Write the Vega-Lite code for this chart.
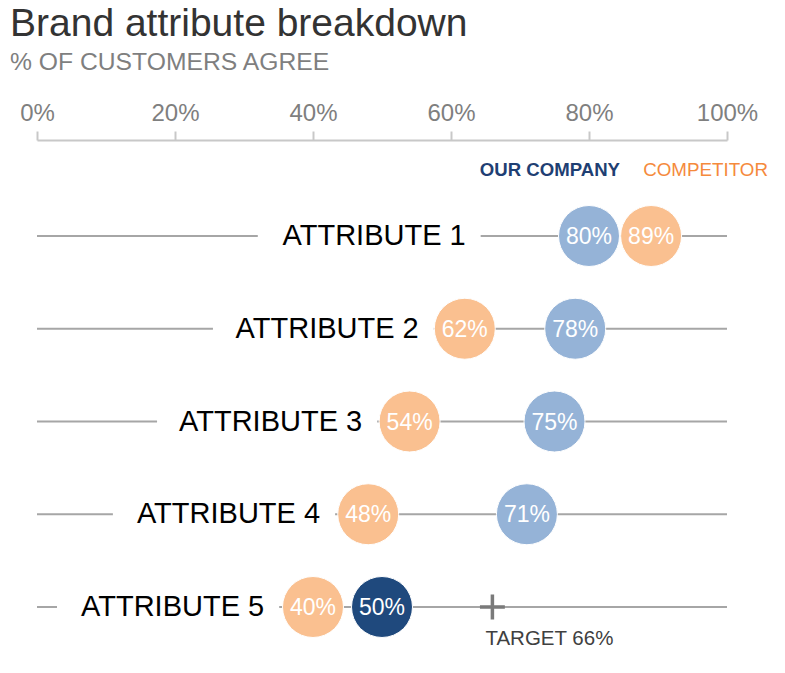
{
  "$schema": "https://vega.github.io/schema/vega-lite/v6.json",
  "autosize": {"type": "none"},
  "padding": {"left": 37, "top": 140, "right": 58, "bottom": 0},
  "width": 690,
  "height": 533,
  "background": "white",
  "config": {"view": {"stroke": null}},

  "title": {
    "text": "Brand attribute breakdown",
    "subtitle": "% OF CUSTOMERS AGREE",
    "anchor": "start",
    "frame": "group",
    "dx": -27,
    "offset": 26,
    "font": "Liberation Sans",
    "fontSize": 39,
    "fontWeight": "normal",
    "color": "#333333",
    "subtitleFont": "Liberation Sans",
    "subtitleFontSize": 24.7,
    "subtitleColor": "#7f7f7f",
    "subtitlePadding": 6
  },

  "datasets": {
    "rows": [
      {"attribute": "ATTRIBUTE 1", "lo": 0, "gap_start": 0.320, "gap_end": 0.643, "hi": 1},
      {"attribute": "ATTRIBUTE 2", "lo": 0, "gap_start": 0.255, "gap_end": 0.575, "hi": 1},
      {"attribute": "ATTRIBUTE 3", "lo": 0, "gap_start": 0.174, "gap_end": 0.493, "hi": 1},
      {"attribute": "ATTRIBUTE 4", "lo": 0, "gap_start": 0.110, "gap_end": 0.432, "hi": 1},
      {"attribute": "ATTRIBUTE 5", "lo": 0, "gap_start": 0.029, "gap_end": 0.351, "hi": 1}
    ],
    "scores": [
      {"attribute": "ATTRIBUTE 1", "series": "OUR COMPANY", "value": 0.80, "highlight": false},
      {"attribute": "ATTRIBUTE 1", "series": "COMPETITOR", "value": 0.89, "highlight": false},
      {"attribute": "ATTRIBUTE 2", "series": "OUR COMPANY", "value": 0.78, "highlight": false},
      {"attribute": "ATTRIBUTE 2", "series": "COMPETITOR", "value": 0.62, "highlight": false},
      {"attribute": "ATTRIBUTE 3", "series": "OUR COMPANY", "value": 0.75, "highlight": false},
      {"attribute": "ATTRIBUTE 3", "series": "COMPETITOR", "value": 0.54, "highlight": false},
      {"attribute": "ATTRIBUTE 4", "series": "OUR COMPANY", "value": 0.71, "highlight": false},
      {"attribute": "ATTRIBUTE 4", "series": "COMPETITOR", "value": 0.48, "highlight": false},
      {"attribute": "ATTRIBUTE 5", "series": "OUR COMPANY", "value": 0.50, "highlight": true},
      {"attribute": "ATTRIBUTE 5", "series": "COMPETITOR", "value": 0.40, "highlight": false}
    ],
    "targets": [
      {"attribute": "ATTRIBUTE 5", "target": 0.66, "label": "TARGET 66%"}
    ],
    "keys": [
      {"attribute": "ATTRIBUTE 1", "end": 1}
    ]
  },

  "layer": [
    {
      "data": {"name": "rows"},
      "mark": {"type": "rule", "color": "#a6a6a6", "strokeWidth": 2},
      "encoding": {
        "y": {
          "field": "attribute",
          "type": "nominal",
          "scale": {"type": "point", "range": [96, 467], "padding": 0},
          "axis": null
        },
        "x": {
          "field": "lo",
          "type": "quantitative",
          "scale": {"domain": [0, 1], "nice": false},
          "axis": {
            "orient": "top",
            "values": [0, 0.2, 0.4, 0.6, 0.8, 1],
            "format": ".0%",
            "title": null,
            "grid": false,
            "domainColor": "#c8c8c8",
            "domainWidth": 2,
            "tickColor": "#c8c8c8",
            "tickWidth": 2,
            "tickSize": 9,
            "labelFont": "Liberation Sans",
            "labelFontSize": 24,
            "labelColor": "#7f7f7f",
            "labelPadding": 6,
            "labelFlush": false
          }
        },
        "x2": {"field": "gap_start"}
      }
    },
    {
      "data": {"name": "rows"},
      "mark": {"type": "rule", "color": "#a6a6a6", "strokeWidth": 2},
      "encoding": {
        "y": {"field": "attribute", "type": "nominal"},
        "x": {"field": "gap_end", "type": "quantitative"},
        "x2": {"field": "hi"}
      }
    },
    {
      "data": {"name": "rows"},
      "mark": {
        "type": "text",
        "align": "right",
        "baseline": "middle",
        "dx": -15,
        "font": "Liberation Sans",
        "fontSize": 29,
        "color": "#000000"
      },
      "encoding": {
        "y": {"field": "attribute", "type": "nominal"},
        "x": {"field": "gap_end", "type": "quantitative"},
        "text": {"field": "attribute", "type": "nominal"}
      }
    },
    {
      "data": {"name": "targets"},
      "mark": {
        "type": "point",
        "shape": "M-1,0H1M0,-1V1",
        "size": 620,
        "filled": false,
        "stroke": "#7a7a7a",
        "strokeWidth": 3.5,
        "opacity": 1
      },
      "encoding": {
        "y": {"field": "attribute", "type": "nominal"},
        "x": {"field": "target", "type": "quantitative"}
      }
    },
    {
      "data": {"name": "targets"},
      "mark": {
        "type": "text",
        "align": "left",
        "baseline": "middle",
        "dx": -7,
        "dy": 32,
        "font": "Liberation Sans",
        "fontSize": 20.5,
        "color": "#404040"
      },
      "encoding": {
        "y": {"field": "attribute", "type": "nominal"},
        "x": {"field": "target", "type": "quantitative"},
        "text": {"field": "label", "type": "nominal"}
      }
    },
    {
      "data": {"name": "scores"},
      "mark": {
        "type": "circle",
        "size": 3720,
        "opacity": 1,
        "stroke": "white",
        "strokeWidth": 1
      },
      "encoding": {
        "y": {"field": "attribute", "type": "nominal"},
        "x": {"field": "value", "type": "quantitative"},
        "color": {
          "condition": {"test": "datum.highlight", "value": "#1f497d"},
          "field": "series",
          "type": "nominal",
          "scale": {"domain": ["OUR COMPANY", "COMPETITOR"], "range": ["#95b3d7", "#fac090"]},
          "legend": null
        }
      }
    },
    {
      "data": {"name": "scores"},
      "mark": {
        "type": "text",
        "align": "center",
        "baseline": "middle",
        "dy": 1,
        "font": "Liberation Sans",
        "fontSize": 23,
        "color": "white"
      },
      "encoding": {
        "y": {"field": "attribute", "type": "nominal"},
        "x": {"field": "value", "type": "quantitative"},
        "text": {"field": "value", "type": "quantitative", "format": ".0%"}
      }
    },
    {
      "data": {"name": "keys"},
      "mark": {
        "type": "text",
        "text": "OUR COMPANY",
        "align": "right",
        "baseline": "middle",
        "dx": -107,
        "dy": -66,
        "font": "Liberation Sans",
        "fontSize": 18.6,
        "fontWeight": "bold",
        "color": "#1f3f73"
      },
      "encoding": {
        "y": {"field": "attribute", "type": "nominal"},
        "x": {"field": "end", "type": "quantitative"}
      }
    },
    {
      "data": {"name": "keys"},
      "mark": {
        "type": "text",
        "text": "COMPETITOR",
        "align": "right",
        "baseline": "middle",
        "dx": 41,
        "dy": -66,
        "font": "Liberation Sans",
        "fontSize": 18.8,
        "color": "#f58a3c"
      },
      "encoding": {
        "y": {"field": "attribute", "type": "nominal"},
        "x": {"field": "end", "type": "quantitative"}
      }
    }
  ]
}
